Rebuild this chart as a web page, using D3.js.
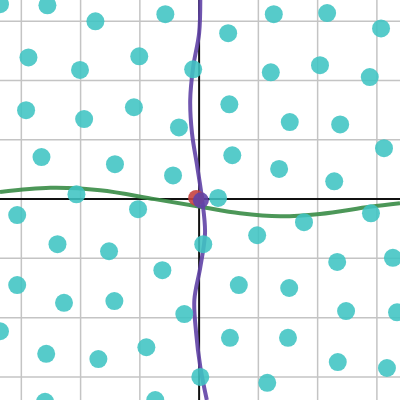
<!DOCTYPE html><html><head><script src="https://cdn.jsdelivr.net/npm/d3@7"></script>
<style>body{margin:0;background:#fff}</style></head><body><svg id="c" width="400" height="400"></svg>
<script>
const gridTicks=[-3,-2,-1,0,1,2,3];
const dotsX=[-3.36,-2.56,-1.75,-0.57,0.49,1.26,2.16,3.07,-2.88,-2.01,-1.01,-0.10,1.21,2.04,2.88,-2.92,-1.94,-1.10,-0.34,0.51,1.53,2.38,-2.66,-1.42,-0.44,0.56,1.35,2.28,3.12,-2.07,0.32,-3.07,-1.03,-2.39,-1.52,0.07,0.98,1.77,2.90,-3.07,-2.28,-1.43,-0.62,-0.25,0.67,1.52,2.33,3.27,3.34,-3.36,-2.58,-1.70,-0.89,0.52,1.50,2.48,2.34,3.17,0.02,1.15,-2.60,-0.74];
const dotsY=[3.29,3.27,3.00,3.12,2.80,3.12,3.14,2.88,2.39,2.18,2.41,2.19,2.14,2.26,2.06,1.50,1.35,1.55,1.21,1.60,1.30,1.26,0.71,0.59,0.40,0.74,0.51,0.30,0.86,0.08,0.02,-0.27,-0.17,-0.76,-0.88,-0.76,-0.61,-0.39,-0.24,-1.45,-1.75,-1.72,-1.20,-1.94,-1.45,-1.50,-1.06,-0.99,-1.91,-2.23,-2.61,-2.70,-2.50,-2.34,-2.34,-1.89,-2.75,-2.85,-3.00,-3.10,-3.42,-3.39];
const greenX=[-3.36,-2.51,-1.67,-0.75,0.02,0.69,1.37,2.04,2.88,3.39];
const greenY=[0.12,0.19,0.15,0.0,-0.13,-0.24,-0.29,-0.25,-0.13,-0.07];
const purpleX=[0.02,0,-0.10,-0.15,-0.12,-0.03,0.05,0.10,0.02,-0.08,-0.05,0.02,0.13];
const purpleY=[3.36,2.80,2.23,1.67,1.11,0.54,0,-0.57,-1.15,-1.70,-2.26,-2.83,-3.39];
const redPt=[-0.05,0.02], purplePt=[0.03,-0.02];
const svg=d3.select("#c");
const x=d3.scaleLinear().domain([-3.36,3.39]).range([0,400]);
const y=d3.scaleLinear().domain([-3.39,3.36]).range([400,0]);
svg.selectAll(".gx").data(gridTicks.filter(d=>d)).enter().append("line").attr("x1",d=>x(d)).attr("x2",d=>x(d)).attr("y1",0).attr("y2",400).attr("stroke","#c4c4c4").attr("stroke-width",1.5);
svg.selectAll(".gy").data(gridTicks.filter(d=>d)).enter().append("line").attr("y1",d=>y(d)).attr("y2",d=>y(d)).attr("x1",0).attr("x2",400).attr("stroke","#c4c4c4").attr("stroke-width",1.5);
svg.append("line").attr("x1",x(0)).attr("x2",x(0)).attr("y1",0).attr("y2",400).attr("stroke","#111").attr("stroke-width",2);
svg.append("line").attr("y1",y(0)).attr("y2",y(0)).attr("x1",0).attr("x2",400).attr("stroke","#111").attr("stroke-width",2);
const line=d3.line().x(d=>x(d[0])).y(d=>y(d[1])).curve(d3.curveCatmullRom);
svg.append("path").attr("d",line(greenX.map((v,i)=>[v,greenY[i]]))).attr("fill","none").attr("stroke","#388c46").attr("stroke-width",4).attr("opacity",0.9);
svg.append("path").attr("d",line(purpleX.map((v,i)=>[v,purpleY[i]]))).attr("fill","none").attr("stroke","#6042a6").attr("stroke-width",4).attr("opacity",0.9);
svg.append("circle").attr("cx",x(redPt[0])).attr("cy",y(redPt[1])).attr("r",8).attr("fill","#c74440").attr("opacity",0.9);
svg.append("circle").attr("cx",x(purplePt[0])).attr("cy",y(purplePt[1])).attr("r",8).attr("fill","#6042a6").attr("opacity",0.9);
svg.selectAll(".dot").data(dotsX.map((v,i)=>[v,dotsY[i]])).enter().append("circle").attr("cx",d=>x(d[0])).attr("cy",d=>y(d[1])).attr("r",9).attr("fill","#3fc4c3").attr("opacity",0.88);
</script></body></html>
